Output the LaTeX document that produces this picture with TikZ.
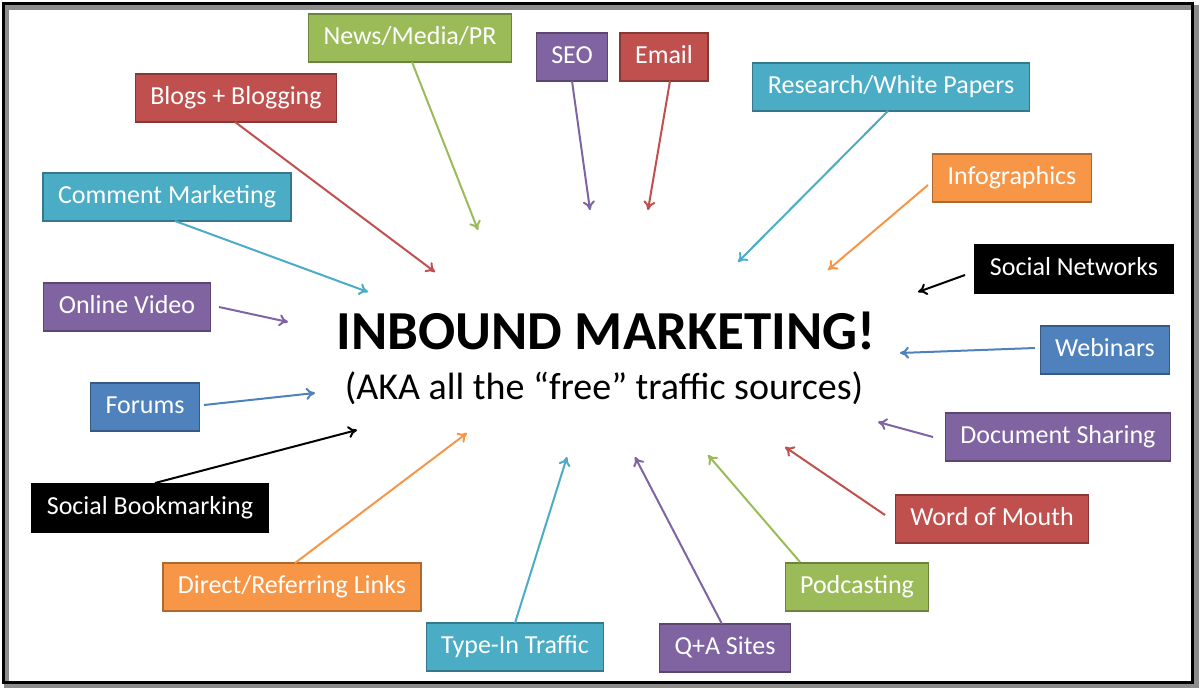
\documentclass[tikz,border=0pt]{standalone}
\usepackage{fontspec}
\setmainfont{Carlito}
\usetikzlibrary{arrows.meta}
\definecolor{cgreen}{HTML}{9BBB59}
\definecolor{cpurple}{HTML}{8064A2}
\definecolor{cred}{HTML}{C0504D}
\definecolor{cteal}{HTML}{4BACC6}
\definecolor{corange}{HTML}{F79646}
\definecolor{cblue}{HTML}{4F81BD}
\definecolor{cblack}{HTML}{000000}
\tikzset{
  src/.style={fill=#1, draw=#1!70!black, line width=1.2pt, text=white,
    font=\fontsize{26}{28}\selectfont, minimum height=48pt, inner xsep=15pt,
    text height=18pt, text depth=5pt},
  link/.style={draw=#1, line width=2pt, -{To[length=9pt,width=12pt]}}
}
\begin{document}
\begin{tikzpicture}[x=1pt,y=-1pt]
\useasboundingbox (0,0) rectangle (1200,688);
\fill[white] (0,0) rectangle (1200,688);
\draw[black!45, line width=5pt] (6,7) rectangle (1196,686);
\draw[black, line width=3pt] (3,3) rectangle (1192,682);
\node (title) at (606,331) {\fontsize{55}{60}\selectfont\bfseries INBOUND MARKETING!};
\node (sub) at (604,388) {\fontsize{38}{44}\selectfont (AKA all the “free” traffic sources)};
\foreach \n/\c/\x/\y/\t/\sx/\sy/\ex/\ey in {
 news/cgreen/410/38/{News/Media/PR}/412/62/478/230,
 seo/cpurple/572/57/SEO/572/81/590/210,
 email/cred/664/57/Email/670/81/648/210,
 blogs/cred/236/98/{Blogs + Blogging}/235/122/435/272,
 research/cteal/891/87/{Research/White Papers}/888/111/738/262,
 comment/cteal/167/197/{Comment Marketing}/175/221/368/292,
 info/corange/1012/178/Infographics/928/185/828/270,
 social/cblack/1074/269/{Social Networks}/965/275/918/292,
 video/cpurple/127/307/{Online Video}/219/307/288/322,
 webinars/cblue/1105/350/Webinars/1035/348/900/353,
 forums/cblue/145/407/Forums/204/405/315/393,
 docs/cpurple/1058/437/{Document Sharing}/933/437/878/422,
 bookmark/cblack/150/508/{Social Bookmarking}/155/483/357/430,
 word/cred/992/519/{Word of Mouth}/885/515/785/447,
 direct/corange/292/587/{Direct/Referring Links}/295/563/467/433,
 pod/cgreen/857/587/Podcasting/800/562/708/455,
 typein/cteal/515/647/{Type-In Traffic}/515/623/567/457,
 qa/cpurple/725/648/{Q+A Sites}/722/624/635/457}{
  \node[src=\c] (\n) at (\x,\y) {\t};
  \coordinate (\n-s) at (\sx,\sy);
  \coordinate (\n-e) at (\ex,\ey);
  \draw[link=\c] (\n-s) -- (\n-e);
}
\end{tikzpicture}
\end{document}
